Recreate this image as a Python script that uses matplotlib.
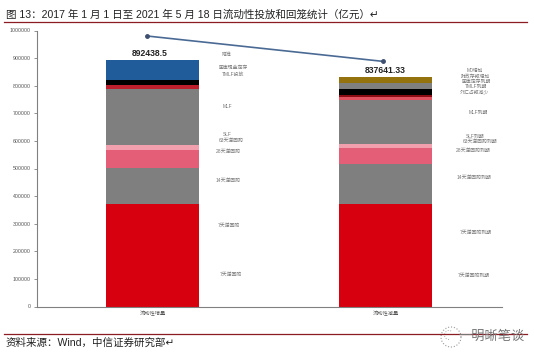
import matplotlib
matplotlib.use('Agg')
import matplotlib.pyplot as plt
from matplotlib.patches import Arc

plt.rcParams['font.family'] = ['Liberation Sans', 'Noto Sans CJK SC', 'DejaVu Sans']

W, H = 534, 360

categorias = ['流动性增量', '流动性减量']
totales = ['892438.5', '837641.33']

# tramos de abajo hacia arriba
tramos_izq = [371000, 131000, 65000, 18000, 203000, 14000, 18000, 72438.5]
colores_izq = ['#d7000f', '#7f7f7f', '#e45e78', '#f2a0ae', '#7f7f7f', '#bd1f2d', '#000000', '#1f5c99']
tramos_der = [373000, 143000, 57000, 16000, 161000, 10000, 6000, 21000, 21000, 22400]
colores_der = ['#d7000f', '#7f7f7f', '#e45e78', '#f2a0ae', '#7f7f7f', '#e0525f', '#8c0c14', '#000000', '#7f7f7f', '#94730f']

linea_x = [-0.024, 0.99]
linea_y = [980000, 888000]

yticks = [0, 100000, 200000, 300000, 400000, 500000, 600000, 700000, 800000, 900000, 1000000]

etiquetas_izq = ['降准', '国库现金定存', 'TMLF投放', 'MLF', 'SLF', '63天逆回购', '28天逆回购', '14天逆回购', '7天逆回购', '7天逆回购']
pos_izq = [(227, 54), (233, 67), (233, 74), (227, 106), (227, 134), (231, 140), (228, 151), (228, 180), (229, 225), (231, 274)]
etiquetas_der = ['M0增加', '财政存款增加', '国库定存到期', 'TMLF到期', '外汇占款减少', 'MLF到期', 'SLF到期', '63天逆回购到期',
                 '28天逆回购到期', '14天逆回购到期', '7天逆回购到期', '7天逆回购到期']
pos_der = [(475, 70.5), (475, 76), (476, 81), (476, 86), (474, 92.5), (478, 112), (475, 136), (480, 141),
           (473, 150), (474, 177), (476, 232), (474, 275.5)]

titulo = '图 13：2017 年 1 月 1 日至 2021 年 5 月 18 日流动性投放和回笼统计（亿元）↵'
fuente = '资料来源：Wind，中信证券研究部↵'
marca = '一明晰笔谈'


def px(x, y):
    return x / W, 1 - y / H


fig = plt.figure(figsize=(W / 100, H / 100), dpi=100)
ax = fig.add_axes([36.5 / W, (H - 306.5) / H, 465.5 / W, 276 / H])

for i, (tramos, colores) in enumerate([(tramos_izq, colores_izq), (tramos_der, colores_der)]):
    base = 0
    for v, c in zip(tramos, colores):
        ax.bar(i, v, 0.4, bottom=base, color=c, linewidth=0)
        base += v
    ax.text(i - 0.012 + 0.012 * i, base + 9000, totales[i], ha='center', va='bottom',
            fontsize=6.2, fontweight='bold', color='#222222')

ax.plot(linea_x, linea_y, color='#4a6a94', linewidth=1.2, marker='o', markersize=2.5,
        markerfacecolor='#3f4f70', markeredgecolor='#3f4f70', clip_on=False)

ax.set_xlim(-0.5, 1.5)
ax.set_ylim(0, 1000000)
ax.set_xticks([0, 1])
ax.set_xticklabels(categorias)
ax.set_yticks(yticks)
ax.set_yticklabels([str(t) for t in yticks])
ax.tick_params(axis='y', labelsize=3.8, length=2, width=0.6, color='#808080', labelcolor='#555555', pad=2)
ax.tick_params(axis='x', labelsize=3.8, length=0, labelcolor='#555555', pad=3)
ax.spines['top'].set_visible(False)
ax.spines['right'].set_visible(False)
ax.spines['left'].set_color('#808080')
ax.spines['bottom'].set_color('#808080')
ax.spines['left'].set_linewidth(0.8)
ax.spines['bottom'].set_linewidth(0.8)

for txt, (x, y) in zip(etiquetas_izq + etiquetas_der, pos_izq + pos_der):
    fx, fy = px(x, y)
    fig.text(fx, fy, txt, ha='center', va='center', fontsize=3.5, color='#777777')

# titulo, fuente y reglas rojas
fx, fy = px(6, 14)
fig.text(fx, fy, titulo, ha='left', va='center', fontsize=7.6, color='#222222')
fx, fy = px(6, 343)
fig.text(fx, fy, fuente, ha='left', va='center', fontsize=7.55, color='#222222')
for y in [21.5, 333.5]:
    fig.add_artist(plt.Line2D([4 / W, 527 / W], [1 - y / H, 1 - y / H], color='#8c1c24', linewidth=0.9))

# marca de agua
fx, fy = px(492, 337)
fig.text(fx, fy, marca, ha='center', va='center', fontsize=9.5, color='#777777', zorder=5)
arc_ax = fig.add_axes([0, 0, 1, 1], facecolor='none')
arc_ax.set_xlim(0, W)
arc_ax.set_ylim(H, 0)
arc_ax.axis('off')
arc_ax.add_patch(Arc((451, 337), 20, 20, linestyle=':', color='#999999', linewidth=0.8))
arc_ax.add_patch(Arc((449, 335), 9, 9, theta1=90, theta2=300, linestyle=':', color='#aaaaaa', linewidth=0.7))

fig.savefig('out.png', dpi=100)
